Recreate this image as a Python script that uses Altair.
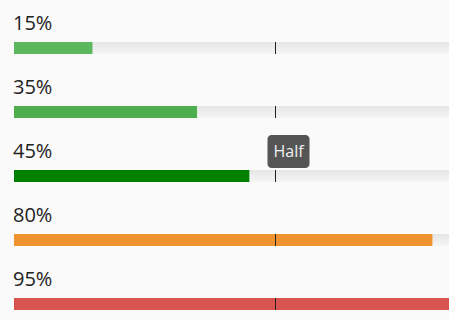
import altair as alt
import pandas as pd

labels = ["15%", "35%", "45%", "80%", "95%"]
values = [15, 35, 45, 80, 95]
colors = ["#5cb85c", "#4cae4c", "#008000", "#f0922e", "#d9534f"]
half_value = 50
tip_text = "Half"
tip_row = "45%"

df = pd.DataFrame({"label": labels, "value": values, "color": colors,
                   "start": [0] * 5, "full": [100] * 5, "half": [half_value] * 5})
tip = pd.DataFrame({"label": [tip_row], "half": [half_value], "text": [tip_text]})

xs = alt.Scale(domain=[0, 100], range=[0, 523])
ys = alt.Y("label:N", sort=labels, axis=None,
           scale=alt.Scale(paddingInner=0, paddingOuter=0))

base = alt.Chart(df)

track = base.mark_bar(size=12, yOffset=16, clip=True,
                      color=alt.LinearGradient(gradient="linear", x1=0, y1=0, x2=0, y2=1,
                                               stops=[alt.GradientStop(color="#e6e6e6", offset=0),
                                                      alt.GradientStop(color="#f5f5f5", offset=1)])
                      ).encode(x=alt.X("start:Q", scale=xs, axis=None), x2="full:Q", y=ys)

fill = base.mark_bar(size=12, yOffset=16, clip=True).encode(
    x=alt.X("start:Q", scale=xs, axis=None), x2="value:Q", y=ys,
    color=alt.Color("color:N", scale=None))

tick = base.mark_tick(orient="vertical", size=12, thickness=1, yOffset=16,
                      color="#222222", opacity=1).encode(
    x=alt.X("half:Q", scale=xs, axis=None), y=ys)

text = base.mark_text(align="left", baseline="alphabetic", dy=-2, dx=-1, fontSize=20,
                      font="Open Sans", color="#222222").encode(
    x=alt.X("start:Q", scale=xs, axis=None), y=ys, text="label:N")

tipbox = alt.Chart(tip).mark_bar(size=33, cornerRadius=4, yOffset=-8.5, xOffset=-8, x2Offset=34,
                                 color="#555555", opacity=1).encode(
    x=alt.X("half:Q", scale=xs, axis=None), x2="half:Q", y=ys)

tiptext = alt.Chart(tip).mark_text(align="center", baseline="middle", dx=13, dy=-8.5, fontSize=16,
                                   font="Open Sans", color="#f2f2f2").encode(
    x=alt.X("half:Q", scale=xs, axis=None), y=ys, text="text:N")

chart = alt.layer(track, fill, tick, text, tipbox, tiptext).properties(
    width=435, height=320,
    padding={"left": 14, "top": 0, "right": 0, "bottom": 0},
    autosize=alt.AutoSizeParams(type="none"),
    background="#fafafa",
).configure_view(stroke=None)

chart.save("out.html", embed_options={"renderer": "svg", "actions": False})
